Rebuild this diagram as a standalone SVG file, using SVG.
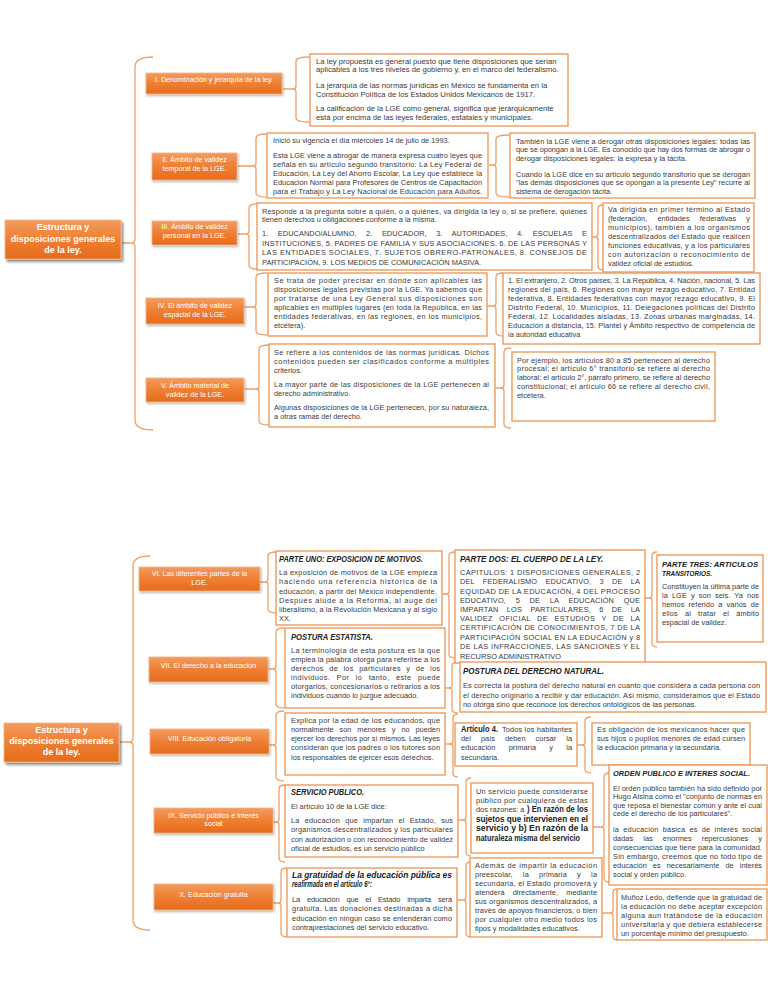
<svg xmlns="http://www.w3.org/2000/svg" width="768" height="994" viewBox="0 0 768 994">
<defs>
<linearGradient id="og" x1="0" y1="0" x2="0" y2="1"><stop offset="0" stop-color="#f39b5e"/><stop offset="0.5" stop-color="#ee7f33"/><stop offset="1" stop-color="#e56b1b"/></linearGradient>
<filter id="sh" x="-10%" y="-20%" width="130%" height="160%"><feDropShadow dx="1" dy="1.5" stdDeviation="0.8" flood-color="#000" flood-opacity="0.3"/></filter>
<filter id="sh2" x="-10%" y="-20%" width="130%" height="160%"><feDropShadow dx="2" dy="2.5" stdDeviation="1.2" flood-color="#000" flood-opacity="0.45"/></filter>
<style>
.n{fill:url(#og);stroke:#f6b488;stroke-width:0.8;filter:url(#sh)}
.c{fill:url(#og);stroke:#f6b488;stroke-width:0.8;filter:url(#sh2)}
.nt{font-family:"Liberation Sans",Arial,sans-serif;font-size:7.2px;fill:#fff;text-anchor:middle}
.ct{font-family:"Liberation Sans",Arial,sans-serif;font-size:9px;font-weight:bold;fill:#fff;text-anchor:middle}
.b{fill:#fff;stroke:#ee9a5c;stroke-width:1.4}
.t{font-family:"Liberation Sans",Arial,sans-serif;font-size:7.4px;fill:#3a3a3a}
.h{font-family:"Liberation Sans",Arial,sans-serif;font-size:9px;font-weight:bold;font-style:italic;fill:#222}
.bb{font-family:"Liberation Sans",Arial,sans-serif;font-size:9px;font-weight:bold;fill:#222}
.br{fill:none;stroke:#efa068;stroke-width:1.3}
</style>
</defs>
<rect width="768" height="994" fill="#fff"/>

<g id="connectors">
<path class="br" d="M153,57 Q135,57 135,67 V239 Q135,243 131,243 H122 M131,243 Q135,243 135,247 V420 Q135,430 153,430"/>
<path class="br" d="M150,556 Q133,556 133,566 V738 Q133,742 129,742 H120 M129,742 Q133,742 133,746 V920 Q133,930 150,930"/>
<path class="br" d="M309,57 Q296,57 296,61 V86 Q296,89 293,89 H283 M293,89 Q296,89 296,92 V118 Q296,122 309,122"/>
<path class="br" d="M266,134 Q256,134 256,138 V163 Q256,166 253,166 H238 M253,166 Q256,166 256,169 V193 Q256,197 266,197"/>
<path class="br" d="M509,135 Q496,135 496,139 V162 Q496,165 493,165 H489 M493,165 Q496,165 496,168 V193 Q496,197 509,197"/>
<path class="br" d="M257,204 Q249,204 249,208 V231 Q249,234 246,234 H238 M246,234 Q249,234 249,237 V265 Q249,269 257,269"/>
<path class="br" d="M603,205 Q598,205 598,209 V234 Q598,237 595,237 H592 M595,237 Q598,237 598,240 V266 Q598,270 603,270"/>
<path class="br" d="M267,273 Q256,273 256,277 V304 Q256,307 253,307 H244 M253,307 Q256,307 256,310 V331 Q256,335 267,335"/>
<path class="br" d="M503,273 Q496,273 496,277 V303 Q496,306 493,306 H487 M493,306 Q496,306 496,309 V332 Q496,336 503,336"/>
<path class="br" d="M269,345 Q259,345 259,349 V386 Q259,389 256,389 H245 M256,389 Q259,389 259,392 V421 Q259,425 269,425"/>
<path class="br" d="M511,348 Q504,348 504,352 V385 Q504,388 501,388 H496 M501,388 Q504,388 504,391 V424 Q504,428 511,428"/>
<path class="br" d="M276,552 Q268,552 268,556 V579 Q268,582 265,582 H260 M265,582 Q268,582 268,585 V609 Q268,613 276,613"/>
<path class="br" d="M455,552 Q449,552 449,556 V591 Q449,594 446,594 H442 M446,594 Q449,594 449,597 V654 Q449,658 455,658"/>
<path class="br" d="M657,552 Q652,552 652,556 V595 Q652,598 649,598 H645 M649,598 Q652,598 652,601 V643 Q652,647 657,647"/>
<path class="br" d="M284,628 Q276,628 276,632 V666 Q276,669 273,669 H268 M273,669 Q276,669 276,672 V704 Q276,708 284,708"/>
<path class="br" d="M458,662 Q452,662 452,666 V685 Q452,688 449,688 H445 M449,688 Q452,688 452,691 V709 Q452,713 458,713"/>
<path class="br" d="M284,711 Q276,711 276,715 V742 Q276,745 273,745 H269 M273,745 Q276,745 276,748 V777 Q276,781 284,781"/>
<path class="br" d="M458,714 Q453,714 453,718 V741 Q453,744 450,744 H446 M450,744 Q453,744 453,747 V773 Q453,777 458,777"/>
<path class="br" d="M591,717 Q585,717 585,721 V742 Q585,745 582,745 H577 M582,745 Q585,745 585,748 V769 Q585,773 591,773"/>
<path class="br" d="M285,785 Q279,785 279,789 V819 Q279,822 276,822 H273 M276,822 Q279,822 279,825 V858 Q279,862 285,862"/>
<path class="br" d="M471,778 Q466,778 466,782 V817 Q466,820 463,820 H458 M463,820 Q466,820 466,823 V852 Q466,856 471,856"/>
<path class="br" d="M609,773 Q604,773 604,777 V824 Q604,827 601,827 H593 M601,827 Q604,827 604,830 V878 Q604,882 609,882"/>
<path class="br" d="M287,868 Q281,868 281,872 V900 Q281,903 278,903 H273 M278,903 Q281,903 281,906 V933 Q281,937 287,937"/>
<path class="br" d="M471,862 Q466,862 466,866 V897 Q466,900 463,900 H457 M463,900 Q466,900 466,903 V933 Q466,937 471,937"/>
<path class="br" d="M617,889 Q613,889 613,893 V910 Q613,913 610,913 H602 M610,913 Q613,913 613,916 V936 Q613,940 617,940"/>
</g>

<g id="root1">
<rect class="c" x="5" y="220" width="116" height="39"/>
<text class="ct" x="63" y="230">Estructura y</text>
<text class="ct" x="63" y="241.5">disposiciones generales</text>
<text class="ct" x="63" y="253">de la ley.</text>
</g>

<g id="n1"><rect class="n" x="146" y="73" width="136" height="21"/><text class="nt" x="214" y="82">I. Denominación y jerarquía de la ley.</text></g>
<g id="n2"><rect class="n" x="152" y="153" width="85" height="27"/><text class="nt" x="194.5" y="161.5">II. Ámbito de validez</text><text class="nt" x="194.5" y="170.5">temporal de la  LGE.</text></g>
<g id="n3"><rect class="n" x="152" y="221" width="85" height="24"/><text class="nt" x="194.5" y="228.5">III. Ámbito de validez</text><text class="nt" x="194.5" y="237.5">personal en la LGE.</text></g>
<g id="n4"><rect class="n" x="146" y="298" width="98" height="26"/><text class="nt" x="195" y="307.5">IV. El ámbito de validez</text><text class="nt" x="195" y="316.5">espacial de la LGE.</text></g>
<g id="n5"><rect class="n" x="146" y="378" width="98" height="24"/><text class="nt" x="195" y="387.5">V. Ámbito material de</text><text class="nt" x="195" y="397">validez de la LGE.</text></g>

<g id="c1">
<rect class="b" x="310" y="54" width="258" height="72"/>
<text class="t" x="316" y="63.5" style="font-size:7.7px">La ley propuesta es general puesto que tiene disposiciones que serían</text>
<text class="t" x="316" y="72" style="font-size:7.7px">aplicables a los tres niveles de gobierno y, en el marco del federalismo.</text>
<text class="t" x="316" y="87.5" style="font-size:7.7px">La jerarquía de las normas jurídicas en México se fundamenta en la</text>
<text class="t" x="316" y="96.5" style="font-size:7.7px">Constitución Política de los Estados Unidos Mexicanos de 1917.</text>
<text class="t" x="316" y="110.5" style="font-size:7.7px">La calificación de la LGE como general, significa que jerárquicamente</text>
<text class="t" x="316" y="120" style="font-size:7.7px">está por encima de las leyes federales, estatales y municipales.</text>
</g>

<g id="c2">
<rect class="b" x="267" y="133" width="221" height="65"/>
<text class="t" x="273" y="142.5">Inició su vigencia el día miércoles 14 de julio de 1993.</text>
<text class="t" x="273" y="158" textLength="209">Esta LGE viene a abrogar de manera expresa cuatro leyes que</text>
<text class="t" x="273" y="167" textLength="209">señala en su artículo segundo transitorio: La Ley Federal de</text>
<text class="t" x="273" y="176" textLength="209">Educación, La Ley del Ahorro Escolar, La Ley que establece la</text>
<text class="t" x="273" y="185" textLength="209">Educación Normal para Profesores de Centros de Capacitación</text>
<text class="t" x="273" y="194" textLength="209">para el Trabajo y  La Ley Nacional de Educación para Adultos.</text>
</g>

<g id="c2b">
<rect class="b" x="510" y="133" width="245" height="65"/>
<text class="t" x="516" y="143.5" textLength="234">También la LGE viene a derogar otras disposiciones legales: todas las</text>
<text class="t" x="516" y="152" textLength="234">que se opongan a la LGE. Es conocido que hay dos formas de abrogar o</text>
<text class="t" x="516" y="160.5">derogar disposiciones legales: la expresa y la tácita.</text>
<text class="t" x="516" y="176.5" textLength="234">Cuando la LGE dice en su artículo segundo transitorio que se derogan</text>
<text class="t" x="516" y="185" textLength="234">"las demás disposiciones que se opongan a la presente Ley" recurre al</text>
<text class="t" x="516" y="193.5">sistema de derogación tácita.</text>
</g>

<g id="c3">
<rect class="b" x="257" y="203" width="335" height="67"/>
<text class="t" x="262" y="213.5" textLength="325">Responde a la pregunta sobre a quién, o a quiénes, va dirigida la ley o, si se prefiere, quiénes</text>
<text class="t" x="262" y="222">tienen derechos u obligaciones conforme a la misma.</text>
<text class="t" x="262" y="236" textLength="325" style="word-spacing:7.4px">1. EDUCANDO/ALUMNO, 2. EDUCADOR, 3. AUTORIDADES, 4. ESCUELAS E</text>
<text class="t" x="262" y="245.5" textLength="325">INSTITUCIONES, 5. PADRES DE FAMILIA Y SUS ASOCIACIONES, 6. DE LAS PERSONAS Y</text>
<text class="t" x="262" y="255" textLength="325">LAS ENTIDADES SOCIALES, 7. SUJETOS OBRERO-PATRONALES, 8. CONSEJOS DE</text>
<text class="t" x="262" y="264.5">PARTICIPACIÓN, 9. LOS MEDIOS DE COMUNICACIÓN MASIVA.</text>
</g>

<g id="c3b">
<rect class="b" x="603" y="203" width="151" height="69"/>
<text class="t" x="608" y="212" textLength="142">Va dirigida en primer término al Estado</text>
<text class="t" x="608" y="221" textLength="142" style="word-spacing:8px">(federación, entidades federativas y</text>
<text class="t" x="608" y="230" textLength="142">municipios), también a los organismos</text>
<text class="t" x="608" y="239" textLength="142">descentralizados del Estado que realicen</text>
<text class="t" x="608" y="248" textLength="142">funciones educativas, y a los particulares</text>
<text class="t" x="608" y="257" textLength="142">con autorización o reconocimiento de</text>
<text class="t" x="608" y="266">validez oficial de estudios.</text>
</g>

<g id="c4">
<rect class="b" x="268" y="273" width="219" height="63"/>
<text class="t" x="274" y="282.5" textLength="208">Se trata de poder precisar en dónde son aplicables las</text>
<text class="t" x="274" y="291.5" textLength="208">disposiciones legales previstas por la LGE. Ya sabemos que</text>
<text class="t" x="274" y="300.5" textLength="208">por tratarse de una Ley General sus disposiciones son</text>
<text class="t" x="274" y="309.5" textLength="208">aplicables en múltiples lugares (en toda la República, en las</text>
<text class="t" x="274" y="318.5" textLength="208">entidades federativas, en las regiones, en los municipios,</text>
<text class="t" x="274" y="327.5">etcétera).</text>
</g>

<g id="c4b">
<rect class="b" x="503" y="273" width="257" height="71"/>
<text class="t" x="508" y="282.5" textLength="247">1. El extranjero, 2. Otros países, 3. La República, 4. Nación, nacional, 5. Las</text>
<text class="t" x="508" y="291.5" textLength="247">regiones del país, 6. Regiones con mayor rezago educativo, 7. Entidad</text>
<text class="t" x="508" y="300.5" textLength="247">federativa, 8. Entidades federativas con mayor rezago educativo, 9. El</text>
<text class="t" x="508" y="309.5" textLength="247">Distrito Federal,   10. Municipios, 11. Delegaciones políticas del Distrito</text>
<text class="t" x="508" y="318.5" textLength="247">Federal, 12. Localidades aisladas, 13. Zonas urbanas marginadas, 14.</text>
<text class="t" x="508" y="327.5" textLength="247">Educación a distancia, 15. Plantel y  Ámbito respectivo de competencia de</text>
<text class="t" x="508" y="336.5">la autoridad educativa</text>
</g>

<g id="c5">
<rect class="b" x="269" y="344" width="226" height="83"/>
<text class="t" x="274" y="354.5" textLength="215">Se refiere a los contenidos de las normas jurídicas. Dichos</text>
<text class="t" x="274" y="363.5" textLength="215">contenidos pueden ser clasificados conforme a múltiples</text>
<text class="t" x="274" y="372.5">criterios.</text>
<text class="t" x="274" y="386.5" textLength="215">La mayor parte de las disposiciones de la LGE pertenecen al</text>
<text class="t" x="274" y="395.5">derecho administrativo.</text>
<text class="t" x="274" y="410" textLength="215">Algunas disposiciones de la LGE pertenecen, por su naturaleza,</text>
<text class="t" x="274" y="419">a otras ramas del derecho.</text>
</g>

<g id="c5b">
<rect class="b" x="512" y="352" width="203" height="69"/>
<text class="t" x="517" y="362.5" textLength="193">Por ejemplo, los artículos 80 a 85 pertenecen al derecho</text>
<text class="t" x="517" y="371" textLength="193">procesal; el artículo 6° transitorio se refiere al derecho</text>
<text class="t" x="517" y="379.5" textLength="193">laboral; el artículo 2°, párrafo primero, se refiere al derecho</text>
<text class="t" x="517" y="388.5" textLength="193">constitucional; el artículo 66 se refiere al derecho civil,</text>
<text class="t" x="517" y="398">etcétera.</text>
</g>

<g id="root2">
<rect class="c" x="4" y="723" width="115" height="39"/>
<text class="ct" x="61.5" y="733">Estructura y</text>
<text class="ct" x="61.5" y="744">disposiciones generales</text>
<text class="ct" x="61.5" y="755">de la ley.</text>
</g>

<g id="n6"><rect class="n" x="139" y="567" width="121" height="24"/><text class="nt" x="199.5" y="575.5">VI. Las diferentes partes de la</text><text class="nt" x="199.5" y="585">LGE.</text></g>
<g id="n7"><rect class="n" x="149" y="657" width="119" height="25"/><text class="nt" x="208.5" y="668">VII.  El derecho a la educación</text></g>
<g id="n8"><rect class="n" x="150" y="729" width="119" height="25"/><text class="nt" x="209.5" y="740.5">VIII. Educación obligatoria</text></g>
<g id="n9"><rect class="n" x="154" y="808" width="119" height="25"/><text class="nt" x="213.5" y="817.5">IX. Servicio público e interés</text><text class="nt" x="213.5" y="826">social</text></g>
<g id="n10"><rect class="n" x="154" y="884" width="119" height="26"/><text class="nt" x="213.5" y="896.5">X. Educación gratuita</text></g>

<g id="c6">
<rect class="b" x="276" y="551" width="166" height="74"/>
<text class="h" x="279" y="562" textLength="144" lengthAdjust="spacingAndGlyphs">PARTE UNO: EXPOSICION DE MOTIVOS.</text>
<text class="t" x="279" y="574.5" textLength="158">La exposición de motivos de la LGE empieza</text>
<text class="t" x="279" y="584" textLength="158">haciendo una referencia histórica de la</text>
<text class="t" x="279" y="593.5" textLength="158">educación, a partir del México independiente.</text>
<text class="t" x="279" y="602.5" textLength="158">Después alude a la Reforma, al auge del</text>
<text class="t" x="279" y="611.5" textLength="158">liberalismo, a la Revolución Mexicana y al siglo</text>
<text class="t" x="279" y="621">XX.</text>
</g>

<g id="c6b">
<rect class="b" x="455" y="550" width="190" height="113"/>
<text class="h" x="460" y="562" textLength="143" lengthAdjust="spacingAndGlyphs">PARTE DOS: EL CUERPO DE LA LEY.</text>
<text class="t" x="460" y="574.5" textLength="180">CAPITULOS: 1 DISPOSICIONES GENERALES, 2</text>
<text class="t" x="460" y="584" textLength="180" style="word-spacing:6px">DEL FEDERALISMO EDUCATIVO, 3 DE LA</text>
<text class="t" x="460" y="593.5" textLength="180">EQUIDAD DE LA EDUCACIÓN, 4 DEL PROCESO</text>
<text class="t" x="460" y="602.5" textLength="180" style="word-spacing:7.5px">EDUCATIVO, 5 DE LA EDUCACIÓN QUE</text>
<text class="t" x="460" y="611.5" textLength="180" style="word-spacing:6px">IMPARTAN LOS PARTICULARES, 6 DE LA</text>
<text class="t" x="460" y="620.5" textLength="180" style="word-spacing:4px">VALIDEZ OFICIAL DE ESTUDIOS Y DE LA</text>
<text class="t" x="460" y="630" textLength="180">CERTIFICACIÓN DE CONOCIMIENTOS, 7 DE LA</text>
<text class="t" x="460" y="639.5" textLength="180">PARTICIPACIÓN SOCIAL EN LA EDUCACIÓN y 8</text>
<text class="t" x="460" y="649" textLength="180">DE LAS INFRACCIONES, LAS SANCIONES Y EL</text>
<text class="t" x="460" y="658.5">RECURSO ADMINISTRATIVO</text>
</g>

<g id="c6c">
<rect class="b" x="657" y="555" width="106" height="87"/>
<text class="h" x="662" y="567" textLength="96" lengthAdjust="spacingAndGlyphs" style="font-size:7.9px">PARTE  TRES:  ARTICULOS</text>
<text class="h" x="662" y="576" textLength="50" lengthAdjust="spacingAndGlyphs" style="font-size:7.9px">TRANSITORIOS.</text>
<text class="t" x="662" y="589" textLength="97">Constituyen la última parte de</text>
<text class="t" x="662" y="598" textLength="97" style="word-spacing:2px">la LGE y son seis. Ya nos</text>
<text class="t" x="662" y="607" textLength="97" style="word-spacing:2px">hemos referido a varios de</text>
<text class="t" x="662" y="616" textLength="97" style="word-spacing:5px">ellos al tratar el ámbito</text>
<text class="t" x="662" y="625">espacial de validez.</text>
</g>

<g id="c7">
<rect class="b" x="285" y="628" width="160" height="80"/>
<text class="h" x="291" y="639.5" textLength="82" lengthAdjust="spacingAndGlyphs">POSTURA ESTATISTA.</text>
<text class="t" x="291" y="652.5" textLength="149">La terminología de esta postura es la que</text>
<text class="t" x="291" y="661.5" textLength="149">emplea la palabra otorga para referirse a los</text>
<text class="t" x="291" y="670.5" textLength="149" style="word-spacing:3px">derechos de los particulares y de los</text>
<text class="t" x="291" y="679.5" textLength="149" style="word-spacing:4px">individuos. Por lo tanto, éste puede</text>
<text class="t" x="291" y="688.5" textLength="149">otorgarlos, concesionarlos o retirarlos a los</text>
<text class="t" x="291" y="697.5">individuos cuando lo juzgue adecuado.</text>
</g>

<g id="c7b">
<rect class="b" x="460" y="662" width="306" height="50"/>
<text class="h" x="463" y="674" textLength="141" lengthAdjust="spacingAndGlyphs">POSTURA DEL DERECHO NATURAL.</text>
<text class="t" x="463" y="688" textLength="297">Es correcta la postura del derecho natural en cuanto que considera a cada persona con</text>
<text class="t" x="463" y="697.5" textLength="297">el derecho originario a recibir y dar educación. Así mismo, consideramos que el Estado</text>
<text class="t" x="463" y="706.5">no otorga sino que reconoce los derechos ontológicos de las personas.</text>
</g>

<g id="c8">
<rect class="b" x="285" y="713" width="160" height="62"/>
<text class="t" x="291" y="722.5" textLength="149">Explica por la edad de los educandos, que</text>
<text class="t" x="291" y="731.5" textLength="149" style="word-spacing:4px">normalmente son menores y no pueden</text>
<text class="t" x="291" y="740.5" textLength="149">ejercer los derechos por sí mismos. Las leyes</text>
<text class="t" x="291" y="750" textLength="149">consideran que los padres o los tutores son</text>
<text class="t" x="291" y="760">los responsables de ejercer esos derechos.</text>
</g>

<g id="c8b">
<rect class="b" x="455" y="723" width="122" height="43"/>
<text class="bb" x="461" y="731.5" textLength="37" lengthAdjust="spacingAndGlyphs">Artículo 4.</text>
<text class="t" x="502" y="731.5" textLength="70">Todos los habitantes</text>
<text class="t" x="461" y="741" textLength="111" style="word-spacing:8px">del país deben cursar la</text>
<text class="t" x="461" y="750" textLength="111" style="word-spacing:11px">educación primaria y la</text>
<text class="t" x="461" y="759.5">secundaria.</text>
</g>

<g id="c8c">
<rect class="b" x="592" y="723" width="158" height="42"/>
<text class="t" x="597" y="731.5" textLength="148">Es obligación de los mexicanos hacer que</text>
<text class="t" x="597" y="740.5" textLength="148">sus hijos o pupilos menores de edad cursen</text>
<text class="t" x="597" y="749.5">la educación primaria y la secundaria.</text>
</g>

<g id="c9">
<rect class="b" x="285" y="785" width="173" height="72"/>
<text class="h" x="291" y="795" textLength="73" lengthAdjust="spacingAndGlyphs">SERVICIO PUBLICO.</text>
<text class="t" x="291" y="809">El artículo 10 de la LGE dice:</text>
<text class="t" x="291" y="823" textLength="162" style="word-spacing:3px">La educación que impartan el Estado, sus</text>
<text class="t" x="291" y="832" textLength="162">organismos descentralizados y los particulares</text>
<text class="t" x="291" y="841.5" textLength="162">con autorización o con reconocimiento de validez</text>
<text class="t" x="291" y="850.5">oficial de estudios, es un servicio público</text>
</g>

<g id="c9b">
<rect class="b" x="471" y="783" width="122" height="70"/>
<text class="t" x="476" y="793.5" textLength="112">Un servicio puede considerarse</text>
<text class="t" x="476" y="802.5" textLength="112">público por cualquiera de estas</text>
<text class="t" x="476" y="812">dos razones: a</text>
<text class="bb" x="527" y="812" textLength="61" lengthAdjust="spacingAndGlyphs">) En razón de los</text>
<text class="bb" x="476" y="821.5" textLength="112" lengthAdjust="spacingAndGlyphs">sujetos que intervienen en el</text>
<text class="bb" x="476" y="831" textLength="112" lengthAdjust="spacingAndGlyphs">servicio y b) En razón de la</text>
<text class="bb" x="476" y="840.5" textLength="104" lengthAdjust="spacingAndGlyphs">naturaleza misma del servicio</text>
</g>

<g id="c9c">
<rect class="b" x="609" y="765" width="158" height="120"/>
<text class="h" x="613" y="776" textLength="137" lengthAdjust="spacingAndGlyphs" style="font-size:8.1px">ORDEN PUBLICO E INTERES SOCIAL.</text>
<text class="t" x="613" y="790.5" textLength="149">El orden público también ha sido definido por</text>
<text class="t" x="613" y="799" textLength="149">Hugo Alsina como el "conjunto de normas en</text>
<text class="t" x="613" y="807.5" textLength="149">que reposa el bienestar común y ante el cual</text>
<text class="t" x="613" y="816">cede el derecho de los particulares".</text>
<text class="t" x="613" y="832" textLength="149" style="word-spacing:2px">la educación básica es de interés social</text>
<text class="t" x="613" y="841" textLength="149" style="word-spacing:8px">dadas las enormes repercusiones y</text>
<text class="t" x="613" y="849.5" textLength="149">consecuencias que tiene para la comunidad.</text>
<text class="t" x="613" y="858.5" textLength="149">Sin embargo, creemos que no todo tipo de</text>
<text class="t" x="613" y="867.5" textLength="149" style="word-spacing:4px">educación es necesariamente de interés</text>
<text class="t" x="613" y="876.5">social y orden público.</text>
</g>

<g id="c10">
<rect class="b" x="287" y="868" width="170" height="69"/>
<text class="h" x="292" y="877.5" textLength="160" lengthAdjust="spacingAndGlyphs" style="font-size:8.5px">La gratuidad de la educación pública es</text>
<text class="h" x="292" y="886.5" textLength="80" lengthAdjust="spacingAndGlyphs" style="font-size:8.5px">reafirmada en el artículo 6°:</text>
<text class="t" x="292" y="901.5" textLength="160" style="word-spacing:5px">La educación que el Estado imparta será</text>
<text class="t" x="292" y="910.5" textLength="160">gratuita. Las donaciones destinadas a dicha</text>
<text class="t" x="292" y="920.5" textLength="160">educación en ningún caso se entenderán como</text>
<text class="t" x="292" y="929.5">contraprestaciones del servicio educativo.</text>
</g>

<g id="c10b">
<rect class="b" x="470" y="858" width="132" height="79"/>
<text class="t" x="475" y="867.5" textLength="122">Además de impartir la educación</text>
<text class="t" x="475" y="876.5" textLength="122" style="word-spacing:8px">preescolar, la primaria y la</text>
<text class="t" x="475" y="885.5" textLength="122">secundaria, el Estado promoverá y</text>
<text class="t" x="475" y="894.5" textLength="122" style="word-spacing:6px">atenderá directamente, mediante</text>
<text class="t" x="475" y="904" textLength="122">sus organismos descentralizados, a</text>
<text class="t" x="475" y="913" textLength="122">través de apoyos financieros, o bien</text>
<text class="t" x="475" y="922" textLength="122">por cualquier otro medio todos los</text>
<text class="t" x="475" y="931">tipos y modalidades educativos.</text>
</g>

<g id="c10c">
<rect class="b" x="617" y="889" width="150" height="51"/>
<text class="t" x="621" y="899.5" textLength="141">Muñoz Ledo, defiende que la gratuidad de</text>
<text class="t" x="621" y="908.5" textLength="141">la educación no debe aceptar excepción</text>
<text class="t" x="621" y="917.5" textLength="141">alguna aun tratándose de la educación</text>
<text class="t" x="621" y="926.5" textLength="141">universitaria y que debiera establecerse</text>
<text class="t" x="621" y="935.5">un porcentaje mínimo del presupuesto.</text>
</g>
</svg>
